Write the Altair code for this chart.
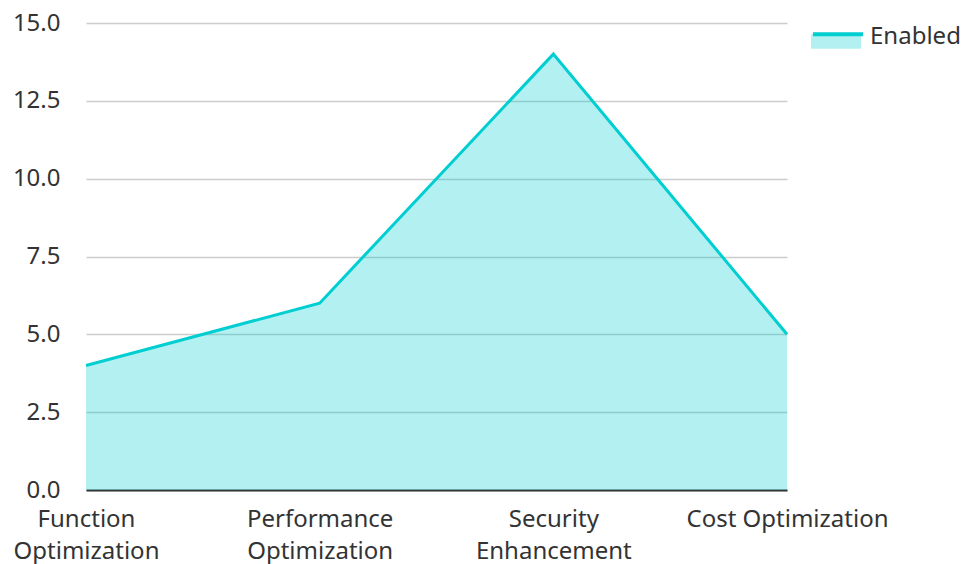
import altair as alt
import pandas as pd

categories = ["Function Optimization", "Performance Optimization", "Security Enhancement", "Cost Optimization"]
values = [4, 6, 14, 5]
series = ["Enabled"] * 4

df = pd.DataFrame({"category": categories, "value": values, "series": series})

FONT = "Noto Sans"
LINE = "#00CED1"
FS = 24

x = alt.X("category:N", sort=categories, title=None,
          scale=alt.Scale(type="point", padding=0),
          axis=alt.Axis(labelAngle=0, domain=True, domainColor="#333333", domainWidth=2,
                        ticks=False, grid=False, labelFontSize=FS, labelColor="#333333",
                        labelFont=FONT, labelPadding=17, labelLineHeight=32,
                        labelBaseline="top", labelLimit=400,
                        labelExpr="datum.label == 'Cost Optimization' ? datum.label : split(datum.label, ' ')"))
y = alt.Y("value:Q", title=None,
          scale=alt.Scale(domain=[0, 15], nice=False),
          axis=alt.Axis(values=[0, 2.5, 5, 7.5, 10, 12.5, 15], format=".1f", domain=False,
                        ticks=False, grid=True, gridColor="#cccccc", gridWidth=1.5,
                        labelFontSize=FS, labelColor="#333333", labelFont=FONT, labelPadding=26))

area = alt.Chart(df).mark_area(opacity=0.3).encode(
    x=x, y=y,
    fill=alt.Fill("series:N", scale=alt.Scale(range=[LINE]),
                  legend=alt.Legend(title=None, orient="none", legendX=725, legendY=-11,
                                    symbolType="M-1,-0.11H1V0.47H-1Z", symbolSize=2500,
                                    symbolOpacity=0.3, symbolStrokeWidth=0,
                                    labelFontSize=FS, labelFont=FONT, labelColor="#333333",
                                    labelOffset=9, padding=0)),
)

line = alt.Chart(df).mark_line(strokeWidth=3).encode(
    x=x, y=y,
    stroke=alt.Stroke("series:N", scale=alt.Scale(range=[LINE]),
                      legend=alt.Legend(title=None, orient="none", legendX=725, legendY=-11,
                                        symbolType="M-1,-0.19H1", symbolSize=2500,
                                        symbolStrokeWidth=4, labelExpr="''",
                                        labelFontSize=FS, labelFont=FONT,
                                        labelOffset=9, padding=0)),
)

chart = alt.layer(area, line).properties(
    width=701, height=467,
    autosize=alt.AutoSizeParams(type="none"),
    padding={"left": 78, "top": 15, "right": 173, "bottom": 74},
).configure(font=FONT).configure_view(stroke=None)

chart.save("out.html", embed_options={"renderer": "svg", "actions": False})
